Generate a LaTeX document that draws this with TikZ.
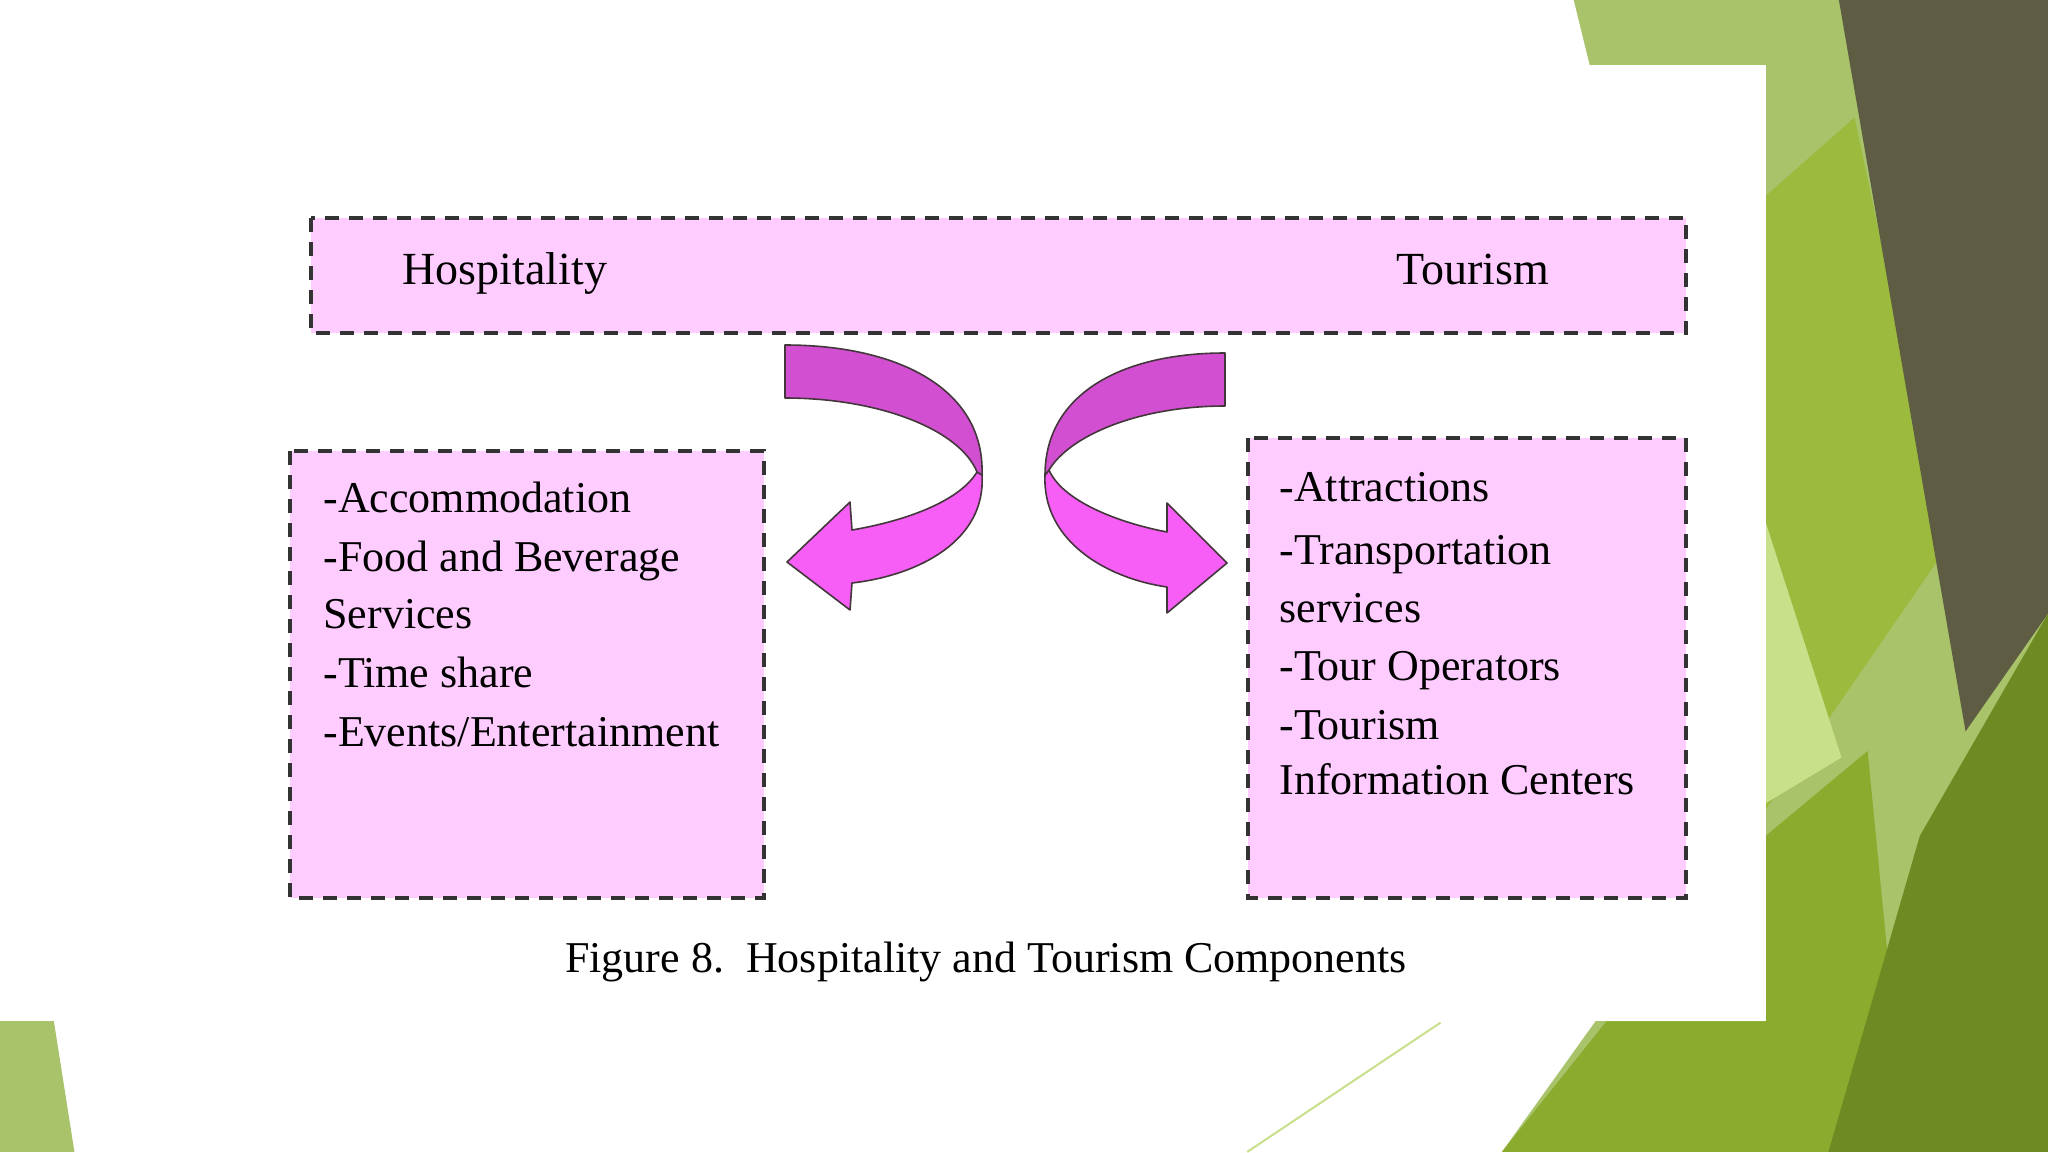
\documentclass[tikz,border=0pt]{standalone}
\usepackage{fontspec}
\setmainfont{Liberation Serif}
\definecolor{boxpink}{HTML}{FFCCFF}
\definecolor{armtop}{HTML}{D24FD2}
\definecolor{armbot}{HTML}{F65EF6}
\definecolor{gA}{HTML}{A8C36A}
\definecolor{gB}{HTML}{9BBA3E}
\definecolor{gC}{HTML}{5E5D43}
\definecolor{gD}{HTML}{6E8A22}
\definecolor{gE}{HTML}{C8E08A}
\definecolor{gF}{HTML}{8AAB2E}
\begin{document}
\begin{tikzpicture}[x=0.5pt,y=-0.5pt,
  dbox/.style={draw=black!80,line width=2.2pt,dash pattern=on 7pt off 5pt,fill=boxpink},
  lst/.style={anchor=base west,font=\fontsize{22}{26}\selectfont,inner sep=0},
  hd/.style={anchor=base,font=\fontsize{23}{27}\selectfont,inner sep=0},
  arm/.style={draw=black!85!magenta,line width=0.8pt,line join=round}]
\useasboundingbox (0,0) rectangle (2048,1152);
\fill[white] (0,0) rectangle (2048,1152);
% background shapes (display coords scaled)
\begin{scope}[scale=1.306]
\fill[gA] (1205,0)--(1568,0)--(1568,882)--(1150,882)--(1352,600)--cycle;
\fill[gB] (1352,150)--(1420,90)--(1490,420)--(1352,620)--cycle;
\fill[gC] (1408,0)--(1568,0)--(1568,470)--(1505,560)--cycle;
\fill[gE] (1352,400)--(1410,580)--(1352,615)--cycle;
\fill[gF] (1150,882)--(1230,782)--(1352,782)--(1352,640)--(1430,575)--(1460,882)--cycle;
\fill[gD] (1568,470)--(1568,882)--(1400,882)--(1470,640)--cycle;
\fill[gA] (0,520)--(57,882)--(0,882)--cycle;
\draw[gE,line width=1pt] (955,882)--(1103,783);
\fill[white] (0,50) rectangle (1352,782);
\end{scope}
% boxes
\coordinate (t1) at (311,218); \coordinate (t2) at (1686,333);
\coordinate (lb1) at (290,451); \coordinate (lb2) at (764,898);
\coordinate (rb1) at (1248,438); \coordinate (rb2) at (1686,898);
\draw[dbox] (t1) rectangle (t2);
\draw[dbox] (lb1) rectangle (lb2);
\draw[dbox] (rb1) rectangle (rb2);
\node[hd] (hosp) at (505,284) {Hospitality};
\node[hd] (tour) at (1473,284) {Tourism};
\node[lst] (l1) at (323,512) {-Accommodation};
\node[lst] (l2) at (323,571) {-Food and Beverage};
\node[lst] (l3) at (323,628) {Services};
\node[lst] (l4) at (323,687) {-Time share};
\node[lst] (l5) at (323,746) {-Events/Entertainment};
\node[lst] (r1) at (1279,501) {-Attractions};
\node[lst] (r2) at (1279,564) {-Transportation};
\node[lst] (r3) at (1279,622) {services};
\node[lst] (r4) at (1279,680) {-Tour Operators};
\node[lst] (r5) at (1279,739) {-Tourism};
\node[lst] (r6) at (1279,794) {Information Centers};
\node[font=\fontsize{22}{26}\selectfont,anchor=base,inner sep=0] (cap) at (986,972) {Figure 8.\ \ Hospitality and Tourism Components};
% left arrow
\draw[arm,fill=armbot] (982,475) .. controls (986,540) and (920,575) .. (852,583) -- (850,610) -- (787,562) -- (850,502) -- (852,530) .. controls (910,520) and (960,500) .. (977,472) -- cycle;
\draw[arm,fill=armtop] (785,345) .. controls (900,345) and (985,390) .. (982,475) -- (977,472) .. controls (960,430) and (880,398) .. (785,398) -- cycle;
% right arrow
\draw[arm,fill=armbot] (1045,475) .. controls (1042,540) and (1105,578) .. (1167,587) -- (1167,613) -- (1227,563) -- (1167,503) -- (1167,532) .. controls (1115,522) and (1062,500) .. (1049,470) -- cycle;
\draw[arm,fill=armtop] (1225,353) .. controls (1120,353) and (1045,395) .. (1045,475) -- (1049,470) .. controls (1070,435) and (1140,406) .. (1225,406) -- cycle;
\end{tikzpicture}
\end{document}
